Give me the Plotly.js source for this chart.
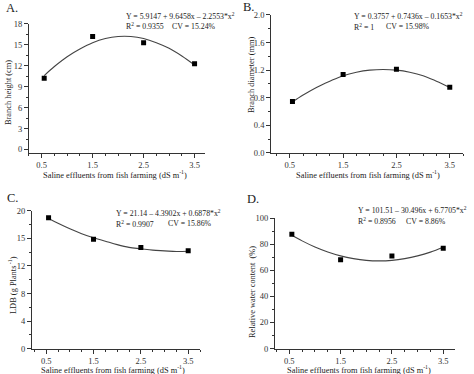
<!DOCTYPE html>
<html><head><meta charset="utf-8">
<script src="https://cdn.plot.ly/plotly-3.0.1.min.js"></script>
<style>html,body{margin:0;padding:0;background:#fff}</style>
</head><body><div id="chart" style="width:474px;height:374px"></div>
<script>
// Observed points
const xPts = [0.55, 1.5, 2.5, 3.5];
const heightPts = [10.2, 16.2, 15.3, 12.3];
const diameterPts = [0.745, 1.136, 1.213, 0.954];
const ldbPts = [19.0, 15.9, 14.7, 14.2];
const rwcPts = [87.6, 68.0, 71.0, 76.8];

// Fitted curves
const xCurve = [0.55, 0.75, 1.0, 1.25, 1.5, 1.75, 2.0, 2.25, 2.5, 2.75, 3.0, 3.25, 3.5];
const heightCurve = [10.6, 11.9, 13.3, 14.4, 15.3, 15.9, 16.2, 16.2, 15.9, 15.3, 14.5, 13.4, 12.1];
const diameterCurve = [0.74, 0.84, 0.95, 1.04, 1.12, 1.17, 1.20, 1.21, 1.20, 1.17, 1.12, 1.04, 0.95];
const ldbCurve = [18.9, 18.2, 17.4, 16.7, 16.1, 15.6, 15.1, 14.7, 14.5, 14.3, 14.2, 14.1, 14.15];
const rwcCurve = [86.8, 82.5, 77.8, 74.0, 71.0, 68.9, 67.6, 67.2, 67.6, 68.9, 71.0, 73.9, 77.7];

const xTicks = [0.5, 1.5, 2.5, 3.5];
const xTickText = ['0.5', '1.5', '2.5', '3.5'];
const ticksA = [0, 3, 6, 9, 12, 15, 18];
const ticksB = [0, 0.4, 0.8, 1.2, 1.6, 2.0];
const ticksBText = ['0.0', '0.4', '0.8', '1.2', '1.6', '2.0'];
const ticksC = [0, 4, 8, 12, 16, 20];
const ticksCText = ['0', '4', '8', '12', '15', '20'];
const ticksD = [0, 20, 40, 60, 80, 100];

const panels = ['A.', 'B.', 'C.', 'D.'];
const yTitles = ['Branch height (cm)', 'Branch diameter (mm)', 'LDB (g Plants<sup> -1</sup>)', 'Relative water content  (%)'];
const xTitle = 'Saline effluents from fish farming (dS m<sup>-1</sup>)';
const equations = ['Y = 5.9147 + 9.6458x – 2.2553*x<sup>2</sup>', 'Y = 0.3757 + 0.7436x – 0.1653*x<sup>2</sup>', 'Y = 21.14 – 4.3902x + 0.6878*x<sup>2</sup>', 'Y = 101.51 – 30.496x + 6.7705*x<sup>2</sup>'];
const r2Text = ['R<sup>2</sup> = 0.9355', 'R<sup>2</sup> = 1', 'R<sup>2</sup> = 0.9907', 'R<sup>2</sup> = 0.8956'];
const cvText = ['CV = 15.24%', 'CV = 15.98%', 'CV = 15.86%', 'CV = 8.86%'];

const F = 'Liberation Serif';
const C = '#333';
const pts = [heightPts, diameterPts, ldbPts, rwcPts];
const curves = [heightCurve, diameterCurve, ldbCurve, rwcCurve];
const traces = [];
for (let i = 0; i < 4; i++) {
  const ax = i === 0 ? '' : String(i + 1);
  traces.push({x: xCurve, y: curves[i], xaxis: 'x' + ax, yaxis: 'y' + ax, mode: 'lines',
    line: {color: '#444', width: 1.1, shape: 'spline'}, hoverinfo: 'skip'});
  traces.push({x: xPts, y: pts[i], xaxis: 'x' + ax, yaxis: 'y' + ax, mode: 'markers',
    marker: {symbol: 'square', size: 5, color: '#000'}});
}

function xa(domain, range, anchor) {
  return {domain, range, anchor, tickvals: xTicks, ticktext: xTickText, ticks: 'outside', ticklen: 4,
    tickcolor: C, showline: true, linecolor: C, linewidth: 1, showgrid: false, zeroline: false,
    tickfont: {family: F, size: 8.5, color: C},
    minor: {dtick: 0.25, tick0: 0.5, ticks: 'outside', ticklen: 2, tickcolor: C, showgrid: false}};
}
function ya(domain, range, anchor, vals, text, minorD) {
  return {domain, range, anchor, tickvals: vals, ticktext: text, ticks: 'outside', ticklen: 4,
    tickcolor: C, showline: true, linecolor: C, linewidth: 1, showgrid: false, zeroline: false,
    tickfont: {family: F, size: 8.5, color: C},
    minor: {dtick: minorD, ticks: 'outside', ticklen: 2, tickcolor: C, showgrid: false}};
}

const layout = {
  width: 474, height: 374, margin: {l: 0, r: 0, t: 0, b: 0}, showlegend: false,
  paper_bgcolor: '#fff', plot_bgcolor: '#fff',
  xaxis: xa([0.061, 0.432], [0.25, 3.7], 'y'),
  yaxis: ya([0.591, 0.936], [-0.5, 18], 'x', ticksA, ticksA.map(String), 1.5),
  xaxis2: xa([0.572, 0.977], [0.15, 3.75], 'y2'),
  yaxis2: ya([0.591, 0.960], [0, 2], 'x2', ticksB, ticksBText, 0.2),
  xaxis3: xa([0.0675, 0.422], [0.2, 3.75], 'y3'),
  yaxis3: ya([0.068, 0.436], [0, 20], 'x3', ticksC, ticksCText, 2),
  xaxis4: xa([0.580, 0.960], [0.22, 3.73], 'y4'),
  yaxis4: ya([0.068, 0.417], [0, 100], 'x4', ticksD, ticksD.map(String), 10),
  annotations: []
};

const panelPos = [[4, 8], [241, 7], [5, 198], [245, 199]];
const eqPos = [[124, 16], [352, 16], [114, 213], [356, 210]];
const r2Pos = [[124, 26], [352, 27], [114, 224], [356, 221]];
const cvPos = [[170, 26], [384, 27], [166, 224], [404, 221]];
const xtPos = [[115, 174], [368, 174], [113, 369.5], [359, 369.5]];
const ytPos = [[8, 93], [251, 75], [12, 285], [252, 292]];
function ann(text, x, y, size, anchor, angle) {
  layout.annotations.push({text, xref: 'paper', yref: 'paper', x: x / 474, y: 1 - y / 374,
    xanchor: anchor, yanchor: 'middle', showarrow: false, textangle: angle || 0,
    font: {family: F, size, color: '#222'}});
}
for (let i = 0; i < 4; i++) {
  ann(panels[i], panelPos[i][0], panelPos[i][1], 12.5, 'left');
  ann(equations[i], eqPos[i][0], eqPos[i][1], 7.8, 'left');
  ann(r2Text[i], r2Pos[i][0], r2Pos[i][1], 7.8, 'left');
  ann(cvText[i], cvPos[i][0], cvPos[i][1], 7.8, 'left');
  ann(xTitle, xtPos[i][0], xtPos[i][1], 8.4, 'center');
  ann(yTitles[i], ytPos[i][0], ytPos[i][1], 8.4, 'center', -90);
}
Plotly.newPlot('chart', traces, layout, {staticPlot: true});
</script></body></html>
